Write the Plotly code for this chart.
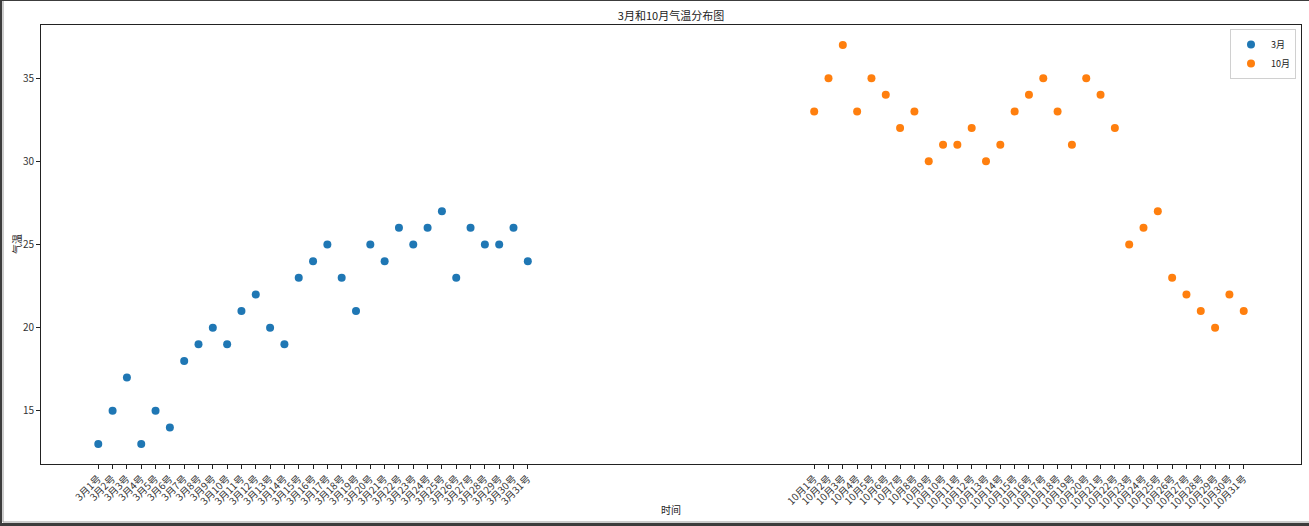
import plotly.graph_objects as go

# ---- data ----
march_days = list(range(1, 32))
october_days = list(range(51, 82))
march_temps = [13, 15, 17, 13, 15, 14, 18, 19, 20, 19, 21, 22, 20, 19, 23, 24,
               25, 23, 21, 25, 24, 26, 25, 26, 27, 23, 26, 25, 25, 26, 24]
october_temps = [33, 35, 37, 33, 35, 34, 32, 33, 30, 31, 31, 32, 30, 31, 33, 34,
                 35, 33, 31, 35, 34, 32, 25, 26, 27, 23, 22, 21, 20, 22, 21]
march_labels = ["3月{}号".format(i) for i in range(1, 32)]
october_labels = ["10月{}号".format(i) for i in range(1, 32)]
y_ticks = [15, 20, 25, 30, 35]

W, H = 1309, 526
L, R, T, B = 41, 1301, 25, 464
FONT = "Noto Sans CJK SC, DejaVu Sans, sans-serif"

def px(x):
    return (x - L) / (R - L)

def py(y):
    return (B - y) / (B - T)

fig = go.Figure()
fig.add_trace(go.Scatter(x=march_days, y=march_temps, mode="markers", name="3月",
                         marker=dict(color="#1f77b4", size=8)))
fig.add_trace(go.Scatter(x=october_days, y=october_temps, mode="markers", name="10月",
                         marker=dict(color="#ff7f0e", size=8)))

shapes = [
    # outer window frame
    dict(type="rect", xref="paper", yref="paper", x0=px(0), x1=px(2), y0=py(526), y1=py(0),
         fillcolor="#3c3c3c", line=dict(width=0), layer="above"),
    dict(type="rect", xref="paper", yref="paper", x0=px(0), x1=px(1309), y0=py(526), y1=py(523),
         fillcolor="#3c3c3c", line=dict(width=0), layer="above"),
    dict(type="rect", xref="paper", yref="paper", x0=px(0), x1=px(1309), y0=py(1), y1=py(0),
         fillcolor="#3c3c3c", line=dict(width=0), layer="above"),
    dict(type="line", xref="paper", yref="paper", x0=px(3), x1=px(3), y0=py(522), y1=py(1),
         line=dict(color="#9a9a9a", width=1), layer="above"),
    dict(type="line", xref="paper", yref="paper", x0=px(3), x1=px(1309), y0=py(522), y1=py(522),
         line=dict(color="#9a9a9a", width=1), layer="above"),
]

annotations = [
    dict(text="时间", xref="paper", yref="paper", x=px(671), y=py(509),
         xanchor="center", yanchor="middle", showarrow=False, font=dict(size=10, color="#222")),
    dict(text="气温", xref="paper", yref="paper", x=px(17), y=py(244),
         xanchor="center", yanchor="middle", textangle=-90, showarrow=False,
         font=dict(size=10, color="#222")),
]

fig.update_layout(
    width=W, height=H,
    margin=dict(l=L, r=W - R, t=T, b=H - B, pad=0, autoexpand=False),
    paper_bgcolor="white", plot_bgcolor="white",
    font=dict(family=FONT, size=10, color="#222"),
    title=dict(text="3月和10月气温分布图", x=px(671), xanchor="center", xref="paper",
               y=1 - 16 / H, yanchor="middle", font=dict(size=11, color="#222")),
    showlegend=True,
    legend=dict(x=px(1296), xanchor="right", y=py(29), yanchor="top",
                bgcolor="white", bordercolor="#d0d0d0", borderwidth=1,
                font=dict(size=9), itemsizing="trace", tracegroupgap=0, itemwidth=30),
    shapes=shapes,
    annotations=annotations,
)

fig.update_xaxes(
    range=[-3, 85], automargin=False,
    tickmode="array",
    tickvals=march_days + october_days,
    ticktext=march_labels + october_labels,
    tickangle=-45,
    ticks="outside", ticklen=4, tickcolor="#222", tickwidth=1,
    showgrid=False, zeroline=False,
    showline=True, linecolor="#222", linewidth=1, mirror=True,
    tickfont=dict(size=10, color="#333"),
)
fig.update_yaxes(
    range=[11.8, 38.2], automargin=False,
    tickmode="array", tickvals=y_ticks,
    ticks="outside", ticklen=4, tickcolor="#222", tickwidth=1,
    showgrid=False, zeroline=False,
    showline=True, linecolor="#222", linewidth=1, mirror=True,
    tickfont=dict(size=10, color="#333"),
)

fig.write_html("out.html", config={"displayModeBar": False},
               post_script="document.body.style.margin='0';document.body.style.padding='0';")
